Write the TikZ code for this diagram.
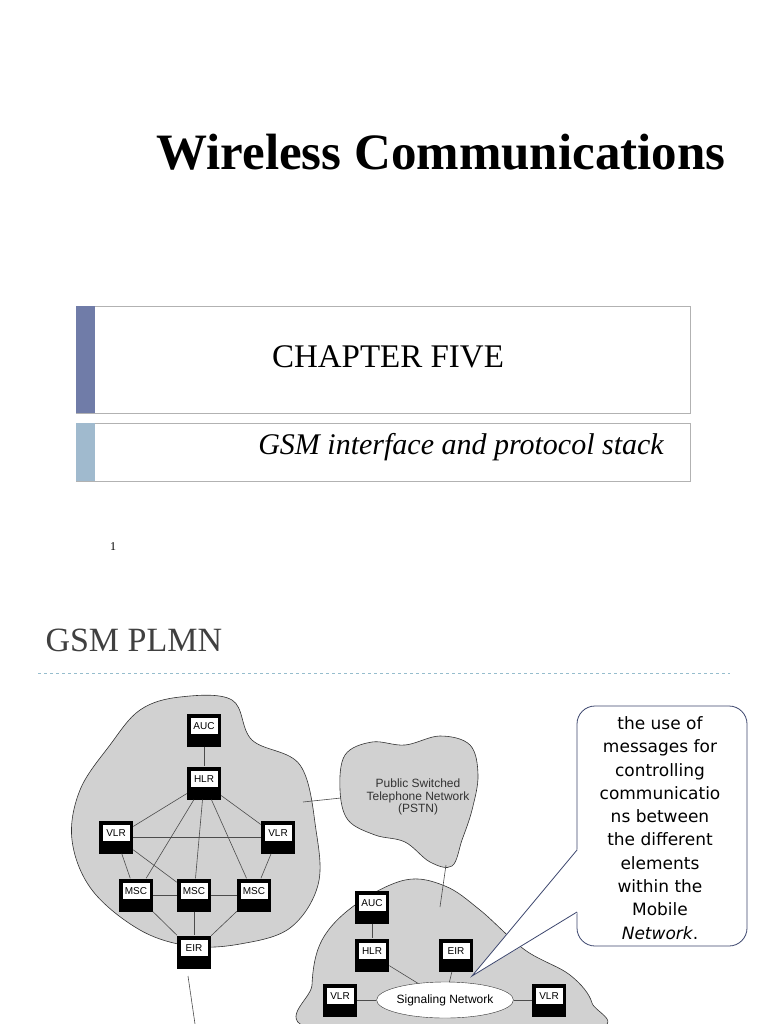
\documentclass[tikz,border=0pt]{standalone}
\usepackage{fontspec}
\usetikzlibrary{shapes.geometric}
\setmainfont{Liberation Serif}
\newfontfamily\lsans{Liberation Sans}
\newfontfamily\dsans{DejaVu Sans}
\definecolor{barone}{RGB}{112,124,168}
\definecolor{bartwo}{RGB}{160,186,206}
\definecolor{calloutc}{RGB}{60,70,110}
\begin{document}
\begin{tikzpicture}[x=1pt,y=-1pt,
  nbox/.style={fill=black,minimum width=34pt,minimum height=33pt,inner sep=0pt},
  cloudfill/.style={fill=black!18,draw=black!80,line width=0.6pt},
  ln/.style={draw=black!70,line width=0.6pt}]
\useasboundingbox (0,0) rectangle (768,1024);
\fill[white] (0,0) rectangle (768,1024);
\node[font=\bfseries\fontsize{51}{56}\selectfont] (title) at (441,152) {Wireless Communications};
\draw[black!30,fill=white] (76,306) rectangle (690,413);
\fill[barone] (76,306) rectangle (95,413);
\node[font=\fontsize{33}{36}\selectfont] (ch) at (388,357) {CHAPTER FIVE};
\draw[black!30,fill=white] (76,423) rectangle (690,481);
\fill[bartwo] (76,423) rectangle (95,481);
\node[font=\itshape\fontsize{30}{33}\selectfont] (sub) at (461,447) {GSM interface and protocol stack};
\node[font=\fontsize{12}{13}\selectfont] (pg) at (113,547) {1};
\node[anchor=west,text=black!75,font=\fontsize{34}{38}\selectfont] (plmn) at (42,640) {GSM PLMN};
\draw[cyan!40!gray!70,dashed,line width=0.6pt] (38,673) -- (730,673);
% clouds
\draw[cloudfill] plot[smooth cycle,tension=0.6] coordinates {(180,697) (232,700) (252,740) (300,765) (316,830) (318,885) (290,928) (240,944) (190,946) (140,930) (92,890) (72,840) (80,790) (110,745) (140,710)};
\draw[cloudfill] plot[smooth cycle,tension=0.6] coordinates {(345,755) (372,742) (405,745) (440,736) (470,745) (478,775) (472,810) (462,840) (452,866) (430,862) (405,842) (375,835) (348,820) (340,790)};
\draw[cloudfill] plot[smooth cycle,tension=0.6] coordinates {(318,1030) (312,985) (322,940) (355,905) (405,880) (445,886) (480,910) (525,950) (570,975) (592,1003) (585,1030)};
\node[align=center,font=\lsans\fontsize{12}{12.5}\selectfont,text=black!80] (pstn) at (418,797) {Public Switched\\Telephone Network\\(PSTN)};
% boxes
\foreach \n/\x/\y/\t in {auc/204/730/AUC,hlr/204/783/HLR,vl/116/837/VLR,vr/278/837/VLR,m1/136/895/MSC,m2/194/895/MSC,m3/254/895/MSC,eir/194/952/EIR,
  auc2/372/907/AUC,hlr2/372/955/HLR,eir2/456/955/EIR,vl2/340/1000/VLR,vr2/549/1000/VLR}{
  \node[nbox] (\n) at (\x,\y) {};
  \node[fill=white,minimum width=27pt,minimum height=16pt,inner sep=0pt,font=\lsans\fontsize{10}{11}\selectfont] (\n t) at (\x,\y-4) {\t};
}
\draw[ln] (auc) -- (hlr);
\foreach \a/\b in {hlr/vl,hlr/vr,hlr/m1,hlr/m2,hlr/m3,vl/vr,vl/m1,vl/m2,vr/m3,m1/m2,m2/m3,m1/eir,m2/eir,m3/eir}{\draw[ln] (\a) -- (\b);}
\coordinate (eb) at (195,1024);
\coordinate (es) at (188,976);
\draw[ln] (es) -- (eb);
\coordinate (lc) at (303,802);
\coordinate (pl) at (341,798);
\draw[ln] (lc) -- (pl);
\coordinate (pb) at (446,865);
\coordinate (ct) at (440,907);
\draw[ln] (pb) -- (ct);
% signaling
\node[draw=black!80,fill=white,ellipse,minimum width=135pt,minimum height=36pt,inner sep=0pt,font=\lsans\fontsize{12}{13}\selectfont] (sig) at (445,1000) {Signaling Network};
\draw[ln] (auc2) -- (hlr2);
\draw[ln] (hlr2) -- (sig);
\draw[ln] (eir2) -- (sig);
\draw[ln] (vl2) -- (sig);
\draw[ln] (vr2) -- (sig);
% callout
\coordinate (tip) at (472,976);
\draw[calloutc,fill=white,line width=0.8pt,rounded corners=18pt] (577,850) -- (577,706) -- (747,706) -- (747,946) -- (577,946) -- (577,912);
\fill[white] (577.4,849) -- (tip) -- (577.4,913) -- cycle;
\draw[calloutc,line width=0.8pt] (577,850) -- (tip) -- (577,912);
\node[align=center,font=\dsans\fontsize{17}{23.3}\selectfont] (call) at (660,828) {the use of\\messages for\\controlling\\communicatio\\ns between\\the different\\elements\\within the\\Mobile\\\textit{Network}.};
\end{tikzpicture}
\end{document}
